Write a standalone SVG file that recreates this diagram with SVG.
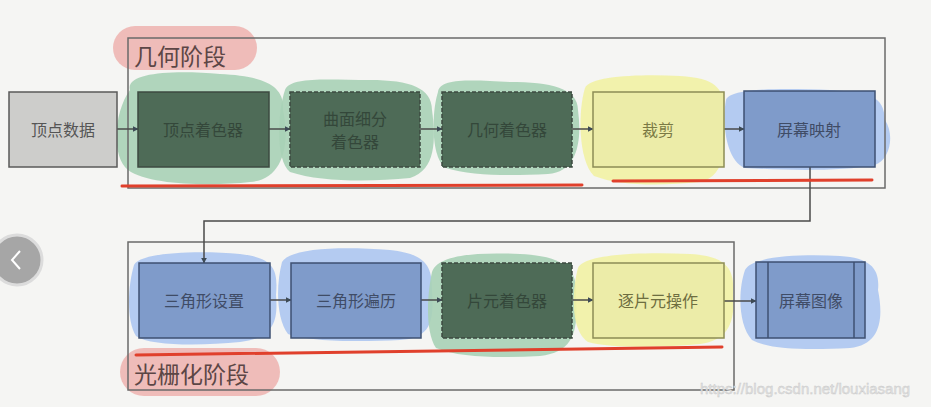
<svg xmlns="http://www.w3.org/2000/svg" width="931" height="407" viewBox="0 0 931 407">
<defs>
<style>
.frame{fill:none;stroke:#6a6a6a;stroke-width:1.5}
.gray{fill:#cdcdcb;stroke:#5a5a5a;stroke-width:1.5}
.dg{fill:#4e6b57;stroke:#3c4a40;stroke-width:1.5}
.dgd{fill:#4e6b57;stroke:#3c4a40;stroke-width:1.5;stroke-dasharray:4 2}
.yel{fill:#ececa8;stroke:#8c8c55;stroke-width:1.5}
.blu{fill:#7f9bca;stroke:#3e5072;stroke-width:1.5}
.lbl{font-family:"Noto Sans CJK SC","Noto Sans CJK JP",sans-serif;font-size:16px;text-anchor:middle;dominant-baseline:central}
.stage{font-family:"Noto Sans CJK SC","Noto Sans CJK JP",sans-serif;font-size:23px;fill:#5c4646}
.hg{fill:#a9d1b6;opacity:0.9}
.hy{fill:#f2f2a4;opacity:0.9}
.hb{fill:#adc7f1;opacity:0.9}
.hp{fill:#eeb6b3;opacity:0.9}
.red{stroke:#e0402c;stroke-width:3;fill:none;stroke-linecap:round}
.conn{fill:none;stroke:#4a4a4a;stroke-width:1.5}
</style>
<marker id="ah" viewBox="0 0 10 10" refX="9" refY="5" markerWidth="6" markerHeight="6" orient="auto" markerUnits="userSpaceOnUse">
<path d="M0,0 L10,5 L0,10 z" fill="#3d4a55"/>
</marker>
</defs>
<rect x="0" y="0" width="931" height="407" fill="#f5f5f3"/>

<!-- highlighter marks -->
<g id="highlights">
<rect class="hp" x="113" y="26" width="144" height="44" rx="22"/>
<rect class="hp" x="120" y="348" width="160" height="48" rx="24"/>
<path class="hg" d="M130,90 C125,72 175,70 220,74 C265,76 285,86 283,110 C290,140 285,180 250,182 C215,186 150,186 128,170 C110,155 115,110 130,90 Z"/>
<path class="hg" d="M285,90 C290,76 330,80 370,80 C410,80 432,88 432,110 C436,140 436,170 410,178 C370,182 320,182 290,172 C275,160 278,110 285,90 Z"/>
<path class="hg" d="M438,92 C440,78 470,80 510,82 C550,82 578,88 578,110 C582,140 578,172 548,174 C510,176 470,176 446,168 C430,158 432,110 438,92 Z"/>
<path class="hy" d="M585,88 C590,76 640,74 680,76 C715,78 724,88 724,110 C726,140 728,176 700,182 C660,186 620,186 594,176 C578,160 578,110 585,88 Z"/>
<path class="hb" d="M726,100 C730,88 780,88 830,90 C870,92 884,96 885,120 C895,135 890,160 875,165 C840,172 780,170 745,168 C725,160 722,120 726,100 Z"/>
<path class="hb" d="M134,265 C140,252 200,250 240,254 C275,258 278,270 276,295 C278,320 275,338 240,342 C200,346 150,346 136,336 C126,320 128,285 134,265 Z"/>
<path class="hb" d="M282,262 C290,248 340,246 390,250 C428,254 432,268 432,290 C434,320 432,338 400,340 C360,342 310,342 288,334 C276,318 276,285 282,262 Z"/>
<path class="hg" d="M432,272 C438,254 480,252 520,254 C565,256 578,270 576,295 C578,330 575,352 540,356 C500,358 460,358 436,348 C424,330 428,290 432,272 Z"/>
<path class="hy" d="M578,268 C584,254 640,252 690,254 C728,256 735,270 733,295 C735,320 730,340 700,344 C660,348 610,348 588,342 C570,330 572,290 578,268 Z"/>
<path class="hb" d="M745,270 C752,256 800,254 840,256 C872,258 880,270 878,290 C884,320 880,345 850,348 C810,350 770,350 752,340 C738,325 738,290 745,270 Z"/>
</g>

<!-- stage frames -->
<g id="stage-geometry">
<rect class="frame" x="128" y="38" width="757" height="150"/>
<text class="stage" x="134" y="65">几何阶段</text>
</g>
<g id="stage-raster">
<rect class="frame" x="128" y="242" width="606" height="148"/>
<text class="stage" x="134" y="383">光栅化阶段</text>
</g>

<!-- connectors -->
<g id="connectors">
<line class="conn" x1="117" y1="129" x2="138" y2="129" marker-end="url(#ah)"/>
<line class="conn" x1="269" y1="129" x2="290" y2="129" marker-end="url(#ah)"/>
<line class="conn" x1="420" y1="129" x2="442" y2="129" marker-end="url(#ah)"/>
<line class="conn" x1="572" y1="129" x2="593" y2="129" marker-end="url(#ah)"/>
<line class="conn" x1="724" y1="129" x2="744" y2="129" marker-end="url(#ah)"/>
<polyline class="conn" points="810,167 810,221 204,221 204,263" marker-end="url(#ah)"/>
<line class="conn" x1="270" y1="300" x2="291" y2="300" marker-end="url(#ah)"/>
<line class="conn" x1="421" y1="300" x2="442" y2="300" marker-end="url(#ah)"/>
<line class="conn" x1="572" y1="300" x2="593" y2="300" marker-end="url(#ah)"/>
<line class="conn" x1="724" y1="301" x2="756" y2="301" marker-end="url(#ah)"/>
</g>

<!-- nodes -->
<g id="vertex-data">
<rect class="gray" x="9" y="92" width="108" height="75"/>
<text class="lbl" x="63" y="129" fill="#555">顶点数据</text>
</g>
<g id="vertex-shader">
<rect class="dg" x="138" y="92" width="131" height="75"/>
<text class="lbl" x="203" y="129" fill="#34473a">顶点着色器</text>
</g>
<g id="tessellation-shader">
<rect class="dgd" x="290" y="92" width="130" height="75"/>
<text class="lbl" x="355" y="118" fill="#34473a">曲面细分</text>
<text class="lbl" x="355" y="141" fill="#34473a">着色器</text>
</g>
<g id="geometry-shader">
<rect class="dgd" x="442" y="92" width="130" height="75"/>
<text class="lbl" x="507" y="129" fill="#34473a">几何着色器</text>
</g>
<g id="clipping">
<rect class="yel" x="593" y="92" width="131" height="75"/>
<text class="lbl" x="658" y="129" fill="#7a7a45">裁剪</text>
</g>
<g id="screen-mapping">
<rect class="blu" x="744" y="91" width="131" height="76"/>
<text class="lbl" x="809" y="129" fill="#3f4c66">屏幕映射</text>
</g>
<g id="triangle-setup">
<rect class="blu" x="139" y="263" width="131" height="75"/>
<text class="lbl" x="204" y="300" fill="#3f4c66">三角形设置</text>
</g>
<g id="triangle-traversal">
<rect class="blu" x="291" y="263" width="130" height="75"/>
<text class="lbl" x="356" y="300" fill="#3f4c66">三角形遍历</text>
</g>
<g id="fragment-shader">
<rect class="dgd" x="442" y="263" width="130" height="75"/>
<text class="lbl" x="507" y="300" fill="#34473a">片元着色器</text>
</g>
<g id="per-fragment-ops">
<rect class="yel" x="593" y="263" width="131" height="75"/>
<text class="lbl" x="658" y="300" fill="#6e6e40">逐片元操作</text>
</g>
<g id="screen-image">
<rect class="blu" x="756" y="262" width="109" height="76"/>
<line x1="768" y1="262" x2="768" y2="338" stroke="#3e5072" stroke-width="1.5"/>
<line x1="854" y1="262" x2="854" y2="338" stroke="#3e5072" stroke-width="1.5"/>
<text class="lbl" x="811" y="300" fill="#3f4c66">屏幕图像</text>
</g>

<!-- red pen underlines -->
<g id="underlines">
<line class="red" x1="122" y1="186" x2="582" y2="185"/>
<line class="red" x1="613" y1="181" x2="872" y2="180"/>
<path class="red" d="M136,355 L722,347"/>
</g>

<!-- page UI -->
<g id="back-button">
<circle cx="17" cy="260" r="25" fill="#a6a6a6" stroke="#dcdcdc" stroke-width="3"/>
<polyline points="20,251 12,260 20,269" fill="none" stroke="#fff" stroke-width="2"/>
</g>
<text x="700" y="394" font-family="Liberation Sans, sans-serif" font-size="15" fill="#e2e2e2" stroke="#c8c8c8" stroke-width="0.4">https://blog.csdn.net/louxiasang</text>
</svg>
